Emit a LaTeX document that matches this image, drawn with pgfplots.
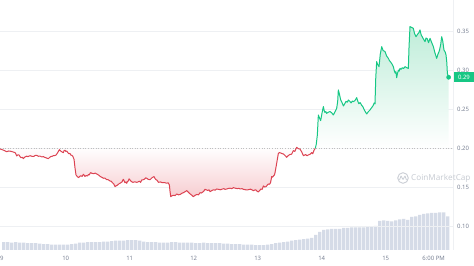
\documentclass[border=0pt]{standalone}
\usepackage{pgfplots}
\pgfplotsset{compat=1.18}
\usepackage{pgfplotstable}
\usepackage{fontspec}
\setmainfont{Noto Sans}
\definecolor{cmcred}{HTML}{DC4352}
\definecolor{cmcgreen}{HTML}{16C784}
\definecolor{redfill}{HTML}{F7CDD1}
\definecolor{greenfill}{HTML}{BFEDD9}
\definecolor{volcol}{HTML}{D5DBE7}
\definecolor{tickgray}{HTML}{7A8294}
\definecolor{gridgray}{HTML}{EEF0F3}
\definecolor{wmgray}{HTML}{C9CDD4}

\pgfplotstableread{
x y
8.973 0.1991
9.00 0.1985
9.03 0.1975
9.05 0.1968
9.078 0.1957
9.11 0.1966
9.14 0.1962
9.17 0.1955
9.208 0.1945
9.22 0.1930
9.234 0.1902
9.25 0.1915
9.27 0.1915
9.285 0.1895
9.30 0.1880
9.32 0.1885
9.339 0.1868
9.36 0.1888
9.39 0.1900
9.41 0.1893
9.443 0.1906
9.47 0.1898
9.50 0.1895
9.52 0.1908
9.547 0.1911
9.57 0.1898
9.60 0.1900
9.625 0.1890
9.651 0.1894
9.67 0.1884
9.69 0.1880
9.71 0.1872
9.729 0.1868
9.75 0.1885
9.77 0.1895
9.79 0.1898
9.807 0.1906
9.83 0.1908
9.85 0.1915
9.875 0.1945
9.901 0.1983
9.915 0.1970
9.93 0.1960
9.95 0.1950
9.964 0.1945
9.975 0.1972
9.99 0.1975
10.00 0.1960
10.016 0.1966
10.03 0.1948
10.05 0.1930
10.065 0.1935
10.078 0.1915
10.095 0.1910
10.110 0.1900
10.130 0.1859
10.145 0.1750
10.161 0.1659
10.18 0.1640
10.198 0.1625
10.22 0.1642
10.24 0.1650
10.255 0.1640
10.276 0.1668
10.29 0.1655
10.30 0.1640
10.32 0.1652
10.339 0.1646
10.355 0.1665
10.37 0.1660
10.38 0.1680
10.391 0.1689
10.41 0.1680
10.44 0.1675
10.46 0.1683
10.484 0.1672
10.51 0.1660
10.54 0.1640
10.565 0.1630
10.589 0.1617
10.61 0.1620
10.64 0.1600
10.665 0.1598
10.693 0.1582
10.71 0.1580
10.73 0.1560
10.75 0.1545
10.771 0.1510
10.79 0.1522
10.81 0.1530
10.83 0.1545
10.849 0.1553
10.865 0.1562
10.88 0.1570
10.89 0.1590
10.901 0.1604
10.912 0.1585
10.925 0.1560
10.94 0.1570
10.953 0.1553
10.965 0.1575
10.98 0.1585
10.99 0.1610
11.005 0.1595
11.025 0.1575
11.05 0.1565
11.08 0.1572
11.109 0.1565
11.13 0.1570
11.15 0.1580
11.17 0.1565
11.188 0.1595
11.21 0.1598
11.23 0.1605
11.25 0.1622
11.266 0.1617
11.29 0.1602
11.32 0.1600
11.35 0.1625
11.380 0.1638
11.395 0.1615
11.41 0.1600
11.43 0.1590
11.448 0.1565
11.48 0.1570
11.51 0.1560
11.545 0.1562
11.578 0.1553
11.60 0.1560
11.620 0.1531
11.63 0.1450
11.641 0.1382
11.665 0.1395
11.69 0.1400
11.71 0.1395
11.734 0.1416
11.76 0.1405
11.79 0.1410
11.815 0.1425
11.839 0.1433
11.865 0.1445
11.891 0.1459
11.915 0.1440
11.94 0.1420
11.97 0.1400
11.995 0.1382
12.02 0.1398
12.05 0.1410
12.075 0.1405
12.099 0.1433
12.12 0.1428
12.14 0.1440
12.16 0.1455
12.177 0.1476
12.20 0.1468
12.22 0.1460
12.24 0.1470
12.255 0.1446
12.28 0.1458
12.31 0.1470
12.335 0.1465
12.359 0.1480
12.39 0.1475
12.42 0.1470
12.445 0.1478
12.47 0.1485
12.49 0.1475
12.516 0.1480
12.545 0.1488
12.57 0.1490
12.595 0.1484
12.620 0.1497
12.65 0.1490
12.68 0.1485
12.705 0.1488
12.73 0.1480
12.755 0.1485
12.776 0.1476
12.81 0.1470
12.85 0.1470
12.89 0.1478
12.932 0.1459
12.95 0.1465
12.97 0.1470
12.99 0.1452
13.010 0.1442
13.03 0.1460
13.05 0.1480
13.07 0.1475
13.089 0.1519
13.11 0.1505
13.13 0.1510
13.15 0.1530
13.167 0.1544
13.185 0.1540
13.20 0.1560
13.21 0.1600
13.219 0.1638
13.235 0.1632
13.25 0.1650
13.262 0.1660
13.271 0.1689
13.295 0.1800
13.323 0.1936
13.34 0.1945
13.36 0.1940
13.38 0.1932
13.401 0.1928
13.425 0.1910
13.453 0.1885
13.475 0.1905
13.50 0.1920
13.53 0.1925
13.557 0.1970
13.58 0.1960
13.609 0.2013
13.635 0.1995
13.661 0.1991
13.69 0.1950
13.714 0.1906
13.73 0.1912
13.75 0.1920
13.77 0.1905
13.792 0.1915
13.82 0.1925
13.844 0.1945
13.86 0.1930
13.880 0.1975
13.90 0.2000
}\redtab

\pgfplotstableread{
x y
13.90 0.2000
13.915 0.2050
13.932 0.2170
13.94 0.2300
13.948 0.2426
13.965 0.2390
13.984 0.2354
14.005 0.2450
14.026 0.2533
14.04 0.2480
14.05 0.2460
14.065 0.2470
14.078 0.2447
14.10 0.2460
14.13 0.2470
14.155 0.2455
14.182 0.2426
14.21 0.2470
14.234 0.2511
14.25 0.2600
14.260 0.2746
14.275 0.2700
14.297 0.2618
14.32 0.2580
14.339 0.2541
14.36 0.2570
14.38 0.2600
14.40 0.2590
14.417 0.2618
14.44 0.2600
14.46 0.2580
14.48 0.2605
14.495 0.2597
14.52 0.2610
14.547 0.2648
14.565 0.2600
14.58 0.2570
14.60 0.2585
14.625 0.2550
14.645 0.2530
14.66 0.2500
14.68 0.2470
14.703 0.2439
14.73 0.2470
14.755 0.2490
14.78 0.2520
14.80 0.2540
14.82 0.2580
14.833 0.2567
14.845 0.2900
14.859 0.3108
14.875 0.3070
14.896 0.3044
14.915 0.3200
14.938 0.3300
14.96 0.3250
14.990 0.3236
15.015 0.3180
15.042 0.3150
15.06 0.3120
15.08 0.3100
15.10 0.3075
15.120 0.3044
15.135 0.2990
15.15 0.2960
15.16 0.2980
15.172 0.2903
15.185 0.2960
15.20 0.3000
15.21 0.2985
15.224 0.3022
15.24 0.3010
15.26 0.3030
15.28 0.3020
15.302 0.3044
15.33 0.3030
15.354 0.3022
15.365 0.3300
15.380 0.3555
15.405 0.3545
15.432 0.3534
15.45 0.3470
15.474 0.3427
15.50 0.3460
15.52 0.3480
15.536 0.3513
15.555 0.3450
15.575 0.3420
15.595 0.3390
15.615 0.3364
15.63 0.3410
15.65 0.3400
15.67 0.3350
15.693 0.3406
15.72 0.3350
15.745 0.3300
15.77 0.3220
15.797 0.3150
15.815 0.3200
15.84 0.3250
15.86 0.3330
15.875 0.3427
15.89 0.3380
15.911 0.3257
15.93 0.3230
15.943 0.3193
15.955 0.3100
15.964 0.2959
15.984 0.2908
}\greentab

\pgfplotstableread{
x y
13.90 0.2000
13.915 0.2050
13.932 0.2170
13.94 0.2300
13.948 0.2426
13.965 0.2390
13.984 0.2354
14.005 0.2450
14.026 0.2533
14.04 0.2480
14.05 0.2460
14.065 0.2470
14.078 0.2447
14.10 0.2460
14.13 0.2470
14.155 0.2455
14.182 0.2426
14.21 0.2470
14.234 0.2511
14.25 0.2600
14.260 0.2746
14.275 0.2700
14.297 0.2618
14.32 0.2580
14.339 0.2541
14.36 0.2570
14.38 0.2600
14.40 0.2590
14.417 0.2618
14.44 0.2600
14.46 0.2580
14.48 0.2605
14.495 0.2597
14.52 0.2610
14.547 0.2648
14.565 0.2600
14.58 0.2570
14.60 0.2585
14.625 0.2550
14.645 0.2530
14.66 0.2500
14.68 0.2470
14.703 0.2439
14.73 0.2470
14.755 0.2490
14.78 0.2520
14.80 0.2540
14.82 0.2580
14.833 0.2567
14.845 0.2900
14.859 0.3108
14.875 0.3070
14.896 0.3044
14.915 0.3200
14.938 0.3300
14.96 0.3250
14.990 0.3236
15.015 0.3180
15.042 0.3150
15.06 0.3120
15.08 0.3100
15.10 0.3075
15.120 0.3044
15.135 0.2990
15.15 0.2960
15.16 0.2980
15.172 0.2903
15.185 0.2960
15.20 0.3000
15.21 0.2985
15.224 0.3022
15.24 0.3010
15.26 0.3030
15.28 0.3020
15.302 0.3044
15.33 0.3030
15.354 0.3022
15.365 0.3300
15.380 0.3555
15.405 0.3545
15.432 0.3534
15.45 0.3470
15.474 0.3427
15.50 0.3460
15.52 0.3480
15.536 0.3513
15.555 0.3450
15.575 0.3420
15.595 0.3390
15.615 0.3364
15.63 0.3410
15.65 0.3400
15.67 0.3350
15.693 0.3406
15.72 0.3350
15.745 0.3300
15.77 0.3220
15.797 0.3150
15.815 0.3200
15.84 0.3250
15.86 0.3330
15.875 0.3427
15.89 0.3380
15.911 0.3257
15.93 0.3230
15.943 0.3193
15.955 0.3100
15.964 0.2959
15.984 0.2908
15.984 0.2000
}\greenfilltab

\pgfplotstableread{
x h
9.03125 8
9.09375 8
9.15625 7.5
9.21875 8
9.28125 7.5
9.34375 7.5
9.40625 7
9.46875 7
9.53125 7
9.59375 6.5
9.65625 6
9.71875 6
9.78125 5.5
9.84375 5.5
9.90625 5.5
9.96875 5.5
10.03125 5.5
10.09375 6
10.15625 6.5
10.21875 7.5
10.28125 7.5
10.34375 8
10.40625 8
10.46875 8
10.53125 8
10.59375 8.5
10.65625 8.5
10.71875 9
10.78125 9.5
10.84375 9.5
10.90625 9.5
10.96875 10
11.03125 10
11.09375 10
11.15625 9.5
11.21875 8.5
11.28125 8
11.34375 8
11.40625 8
11.46875 7.5
11.53125 7.5
11.59375 7.5
11.65625 8
11.71875 8
11.78125 7.5
11.84375 7.5
11.90625 7.5
11.96875 7.5
12.03125 7
12.09375 7
12.15625 7.5
12.21875 7
12.28125 7
12.34375 7
12.40625 7
12.46875 6.5
12.53125 6.5
12.59375 6
12.65625 6
12.71875 6
12.78125 5.5
12.84375 5.5
12.90625 5.5
12.96875 5
13.03125 5
13.09375 5
13.15625 5.5
13.21875 6
13.28125 7
13.34375 7.5
13.40625 8
13.46875 8.5
13.53125 9.5
13.59375 10
13.65625 10.5
13.71875 11
13.78125 11.5
13.84375 12
13.90625 15
13.96875 18
14.03125 20
14.09375 20.5
14.15625 21
14.21875 21
14.28125 21
14.34375 22
14.40625 22
14.46875 22.5
14.53125 22.5
14.59375 22.5
14.65625 22.5
14.71875 23
14.78125 23
14.84375 24
14.90625 29
14.96875 29.5
15.03125 29
15.09375 28.5
15.15625 29.5
15.21875 30.5
15.28125 31
15.34375 30
15.40625 33
15.46875 33.5
15.53125 35
15.59375 36
15.65625 36.5
15.71875 37
15.78125 37
15.84375 37.5
15.90625 37.5
15.96875 33.5
}\voltab

\begin{document}
\begin{tikzpicture}
\useasboundingbox (0,0) rectangle (474bp,266bp);
% volume axis
\begin{axis}[
  at={(0bp,16bp)}, anchor=south west,
  width=453bp, height=250bp, scale only axis,
  xmin=8.973, xmax=16.052, ymin=0, ymax=250,
  axis lines=none, ticks=none,
  ybar, bar width=0.052,
]
\addplot[fill=volcol, draw=none] table[x=x, y=h] {\voltab};
\end{axis}
% price axis
\begin{axis}[
  at={(0bp,16bp)}, anchor=south west,
  width=453bp, height=250bp, scale only axis,
  xmin=8.973, xmax=16.052, ymin=0.0700, ymax=0.3896,
  axis line style={draw=none},
  major tick length=0pt,
  xtick={9,10,11,12,13,14,15,15.75},
  xticklabels={9,10,11,12,13,14,15,6:00 PM},
  ytick={0.10,0.15,0.20,0.25,0.30,0.35},
  yticklabels={0.10,0.15,0.20,0.25,0.30,0.35},
  yticklabel pos=right,
  ymajorgrids, grid style={gridgray, line width=0.6pt},
  xticklabel style={font=\fontsize{6}{7}\selectfont, text=tickgray, anchor=north, inner sep=0pt, yshift=-6bp},
  yticklabel style={font=\fontsize{6}{7}\selectfont, text=tickgray, anchor=west, inner sep=0pt, xshift=4bp},
  clip=false,
]
\addplot[draw=none, top color=white, bottom color=redfill] table[x=x,y=y] {\redtab};
\addplot[draw=none, top color=greenfill, bottom color=white] table[x=x,y=y] {\greenfilltab};
\addplot[gray!50, dotted, line width=0.6pt] coordinates {(8.973,0.20) (16.052,0.20)};
\addplot[cmcred, line width=1.0pt, line join=round] table[x=x,y=y] {\redtab};
\addplot[cmcgreen, line width=1.0pt, line join=round] table[x=x,y=y] {\greentab};
\addplot[only marks, mark=*, mark size=2.1pt, color=cmcgreen] coordinates {(15.984,0.2908)};
\draw[gridgray, line width=0.6pt] (rel axis cs:1,0) -- (rel axis cs:1,1);
\coordinate (lastp) at (axis cs:16.052,0.2908);
\end{axis}
\node[anchor=west, fill=cmcgreen, text=white, inner sep=0pt, minimum width=20.5bp, minimum height=10bp, font=\fontsize{6}{7}\selectfont\bfseries] at ([xshift=0.5bp]lastp) {0.29};
% watermark
\draw[wmgray, line width=0.9pt] (403bp,88bp) circle (5.3bp);
\draw[wmgray, line width=0.8pt, line join=round] (399.5bp,86bp) -- (401bp,90bp) -- (403bp,86.5bp) -- (405bp,90bp) -- (406.5bp,86bp);
\node[anchor=west, text=wmgray, inner sep=0pt, font=\fontsize{8.2}{9}\selectfont] at (411bp,88bp) {CoinMarketCap};
\end{tikzpicture}
\end{document}
